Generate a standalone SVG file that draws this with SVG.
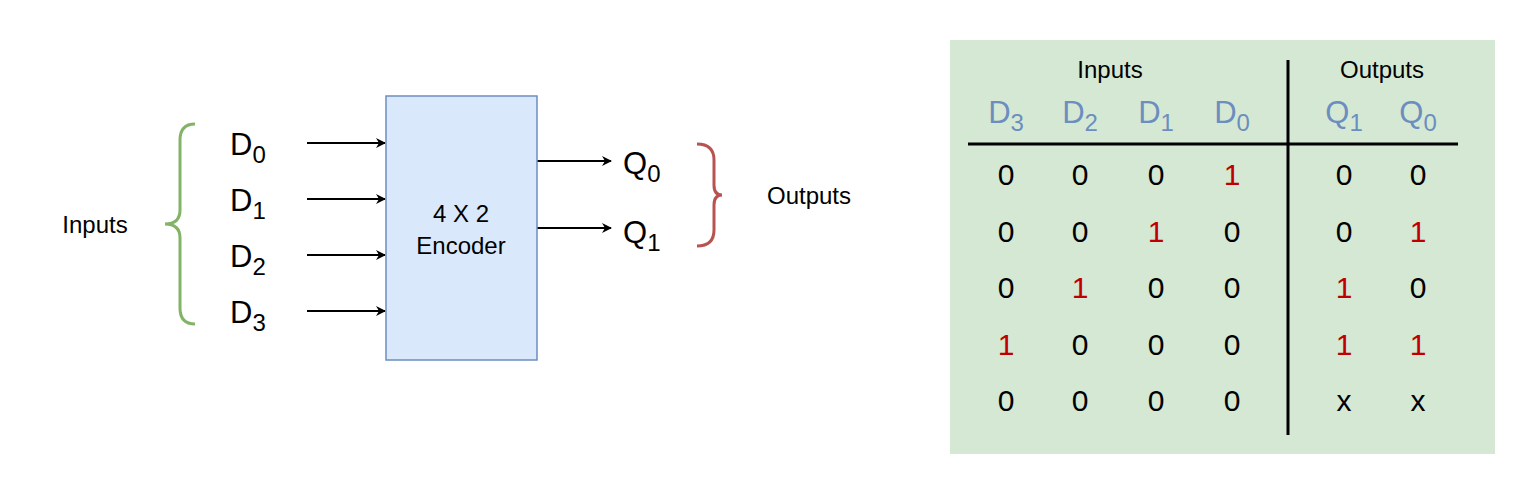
<svg xmlns="http://www.w3.org/2000/svg" width="1536" height="493" viewBox="0 0 1536 493">
<defs>
<marker id="ah" markerWidth="10" markerHeight="10" refX="9" refY="5" orient="auto" markerUnits="userSpaceOnUse"><path d="M0,0 L10,5 L0,10 L3,5 z" fill="#000"/></marker>
<style>
text{font-family:"Liberation Sans",Arial,sans-serif}
.lbl{font-size:31px;fill:#000}
.b{font-size:24px}
.h{font-size:31px;fill:#6c8ebf;text-anchor:middle}
.d{font-size:30px;text-anchor:middle;fill:#000}
.r{fill:#c00000}
.c{stroke:#000;stroke-width:2;fill:none;marker-end:url(#ah)}
</style>
</defs>
<rect width="1536" height="493" fill="#fff"/>
<g id="connectors">
<line class="c" x1="307" y1="143" x2="385" y2="143"/>
<line class="c" x1="307" y1="199" x2="385" y2="199"/>
<line class="c" x1="307" y1="255" x2="385" y2="255"/>
<line class="c" x1="307" y1="311" x2="385" y2="311"/>
<line class="c" x1="537" y1="161" x2="611" y2="161"/>
<line class="c" x1="537" y1="228" x2="611" y2="228"/>
</g>
<g id="encoder"><rect x="386" y="96" width="151" height="264" fill="#dae8fc" stroke="#6c8ebf" stroke-width="1.5"/>
<text x="461" y="222" font-size="24" text-anchor="middle">4 X 2</text>
<text x="461" y="254" font-size="24" text-anchor="middle">Encoder</text></g>
<g id="inputs-labels">
<text class="lbl" x="230" y="155">D<tspan class="b" dy="8">0</tspan></text>
<text class="lbl" x="230" y="211">D<tspan class="b" dy="8">1</tspan></text>
<text class="lbl" x="230" y="267">D<tspan class="b" dy="8">2</tspan></text>
<text class="lbl" x="230" y="323">D<tspan class="b" dy="8">3</tspan></text>
<text class="lbl" x="623" y="174">Q<tspan class="b" dy="8">0</tspan></text>
<text class="lbl" x="623" y="243">Q<tspan class="b" dy="8">1</tspan></text>
</g>
<g id="input-brace"><path d="M195,124 Q180,124 180,140 L180,210 Q180,224 165,224 Q180,224 180,238 L180,308 Q180,324 195,324" fill="none" stroke="#82b366" stroke-width="3"/>
<text x="95" y="233" font-size="24" text-anchor="middle">Inputs</text></g>
<g id="output-brace"><path d="M697,144 Q714,144 714,160 L714,185 Q714,195 722,195 Q714,195 714,205 L714,230 Q714,246 697,246" fill="none" stroke="#b85450" stroke-width="3"/>
<text x="809" y="204" font-size="24" text-anchor="middle">Outputs</text></g>
<g id="truth-table">
<rect x="950" y="40" width="545" height="414" fill="#d5e8d4"/>
<line x1="1288" y1="60" x2="1288" y2="435" stroke="#000" stroke-width="3"/>
<line x1="968" y1="144" x2="1458" y2="144" stroke="#000" stroke-width="3"/>
<text x="1110" y="78" font-size="24" text-anchor="middle">Inputs</text>
<text x="1382" y="78" font-size="24" text-anchor="middle">Outputs</text>
<text class="h" x="1006" y="123">D<tspan font-size="24" dy="8">3</tspan></text>
<text class="h" x="1080" y="123">D<tspan font-size="24" dy="8">2</tspan></text>
<text class="h" x="1156" y="123">D<tspan font-size="24" dy="8">1</tspan></text>
<text class="h" x="1232" y="123">D<tspan font-size="24" dy="8">0</tspan></text>
<text class="h" x="1344" y="123">Q<tspan font-size="24" dy="8">1</tspan></text>
<text class="h" x="1418" y="123">Q<tspan font-size="24" dy="8">0</tspan></text>
<g class="d">
<text class="d" x="1006" y="185">0</text><text class="d" x="1080" y="185">0</text><text class="d" x="1156" y="185">0</text><text class="d r" x="1232" y="185">1</text><text class="d" x="1344" y="185">0</text><text class="d" x="1418" y="185">0</text>
<text class="d" x="1006" y="242">0</text><text class="d" x="1080" y="242">0</text><text class="d r" x="1156" y="242">1</text><text class="d" x="1232" y="242">0</text><text class="d" x="1344" y="242">0</text><text class="d r" x="1418" y="242">1</text>
<text class="d" x="1006" y="298">0</text><text class="d r" x="1080" y="298">1</text><text class="d" x="1156" y="298">0</text><text class="d" x="1232" y="298">0</text><text class="d r" x="1344" y="298">1</text><text class="d" x="1418" y="298">0</text>
<text class="d r" x="1006" y="355">1</text><text class="d" x="1080" y="355">0</text><text class="d" x="1156" y="355">0</text><text class="d" x="1232" y="355">0</text><text class="d r" x="1344" y="355">1</text><text class="d r" x="1418" y="355">1</text>
<text class="d" x="1006" y="411">0</text><text class="d" x="1080" y="411">0</text><text class="d" x="1156" y="411">0</text><text class="d" x="1232" y="411">0</text><text class="d" x="1344" y="411">x</text><text class="d" x="1418" y="411">x</text>
</g>
</g>
</svg>
